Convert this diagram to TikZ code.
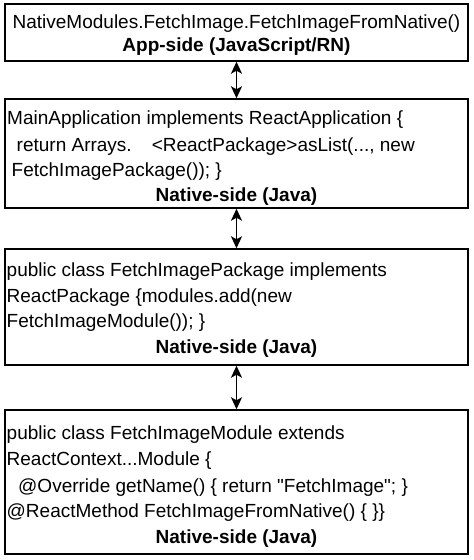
\documentclass[tikz,border=0pt]{standalone}
\usepackage{fontspec}
\setmainfont{Liberation Sans}
\usetikzlibrary{arrows.meta}

\tikzset{
  layer/.style={draw, line width=1.4pt, minimum width=463pt, inner sep=0pt},
  code/.style={anchor=base west, inner sep=0pt, font=\fontsize{19}{24}\selectfont},
  side/.style={anchor=base, inner sep=0pt, font=\fontsize{19}{24}\selectfont\bfseries},
  link/.style={{Stealth[length=12pt,width=11pt,inset=3pt]}-{Stealth[length=12pt,width=11pt,inset=3pt]}, line width=1.8pt},
}

\begin{document}
\begin{tikzpicture}[x=1pt,y=-1pt]
    \useasboundingbox (0,0) rectangle (474,560);

    % App-side box
    \node[layer, minimum height=57pt] (app) at (236.5,32.5) {};
    \node[anchor=base, inner sep=0pt, font=\fontsize{19}{24}\selectfont] (appcall) at (236.5,28.5) {NativeModules.FetchImage.FetchImageFromNative()};
    \node[side] (apptitle) at (236.5,51) {App-side (JavaScript/RN)};

    % MainApplication box
    \node[layer, minimum height=109pt] (main) at (236.5,153.5) {};
    \node[code] (mainA) at (7,124) {MainApplication implements ReactApplication \{};
    \node[code] (mainB) at (16.5,151) {return Arrays.\hspace{20pt}<ReactPackage>asList(..., new};
    \node[code] (mainC) at (11.5,176) {FetchImagePackage()); \}};
    \node[side] (maintitle) at (236.5,201) {Native-side (Java)};

    % FetchImagePackage box
    \node[layer, minimum height=116pt] (pkg) at (236.5,307) {};
    \node[code] (pkgA) at (6.5,276) {public class FetchImagePackage implements};
    \node[code] (pkgB) at (6.5,302) {ReactPackage \{modules.add(new};
    \node[code] (pkgC) at (6.5,327) {FetchImageModule()); \}};
    \node[side] (pkgtitle) at (236.5,353) {Native-side (Java)};

    % FetchImageModule box
    \node[layer, minimum height=144pt] (mod) at (236.5,482) {};
    \node[code] (modA) at (6.5,439) {public class FetchImageModule extends};
    \node[code] (modB) at (6.5,465) {ReactContext...Module \{};
    \node[code] (modC) at (18,492) {@Override getName() \{ return \textquotedbl FetchImage\textquotedbl; \}};
    \node[code] (modD) at (6.5,517) {@ReactMethod FetchImageFromNative() \{ \}\}};
    \node[side] (modtitle) at (236.5,543) {Native-side (Java)};

    % Arrows
    \draw[link] (app.south) -- (main.north);
    \draw[link] (main.south) -- (pkg.north);
    \draw[link] (pkg.south) -- (mod.north);
\end{tikzpicture}
\end{document}
